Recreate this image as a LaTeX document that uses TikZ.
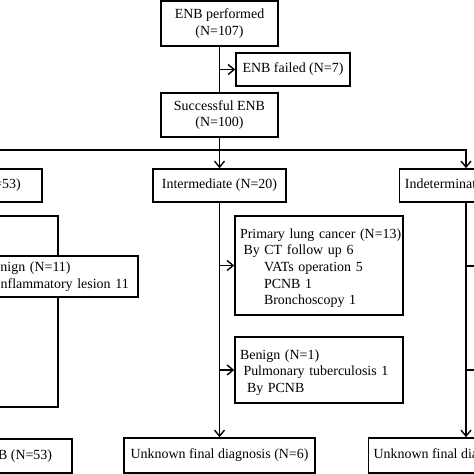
\documentclass[tikz,border=0pt]{standalone}
\usepackage{fontspec}
\setmainfont{Liberation Serif}
\usetikzlibrary{arrows.meta}
\tikzset{
	box/.style={draw, line width=1.6bp, fill=white, inner xsep=5bp, inner ysep=0pt, minimum height=33bp, font=\fontsize{14}{16.7}\selectfont},
	arr/.style={line width=1.6bp, -{Straight Barb[length=6bp,width=10bp,line width=1.4bp]}},
	conn/.style={line width=1.6bp}
}

\begin{document}
\begin{tikzpicture}[x=1bp,y=-1bp]
				%%%%% START %%%%%
				\def\colL{-24.5}
				\def\colM{219.5}
				\def\colR{466}
				\def\fork{150}
				\def\ind{\hspace*{3.5bp}}
				\def\topstrut{\rule{0pt}{15bp}}

				\useasboundingbox (0,0) rectangle (474,474);
				\clip (0,0) rectangle (474,474);

				\node[box, minimum width=117bp, minimum height=45bp, align=center] (perf) at (\colM,23.5) {ENB performed\\(N=107)};
				\node[box, minimum width=114bp] (failed) at (293,69.5) {ENB failed (N=7)};
				\node[box, minimum width=117bp, minimum height=44bp, align=center] (succ) at (\colM,115) {Successful ENB\\(N=100)};

				\node[box, minimum width=133bp] (definite) at (\colL,185.5) {Definite (N=53)};
				\node[box, minimum width=133bp] (inter) at (\colM,185.5) {Intermediate (N=20)};
				\node[box, minimum width=133bp] (indet) at (\colR,185.5) {Indeterminate (N=27)};

				\node[box, minimum width=168bp, minimum height=191bp] (malig) at (-26,311.5) {};
				\node[box, text width=148bp, minimum height=41bp, align=left] (benignL) at (59,276.5) {Benign (N=11)\\\hspace*{11bp}Inflammatory lesion 11};

				\node[box, text width=158bp, minimum height=99bp, align=left] (lung) at (319,265.5) {\topstrut\mbox{Primary lung cancer (N=13)}\\\ind By CT follow up 6\\\hspace*{24bp}VATs operation 5\\\hspace*{24bp}PCNB 1\\\hspace*{24bp}Bronchoscopy 1};
				\node[box, text width=158bp, minimum height=66bp, align=left] (benignM) at (319,370) {\topstrut Benign (N=1)\\\ind Pulmonary tuberculosis 1\\\ind\ind By PCNB};

				\node[box, minimum width=193bp, minimum height=34bp] (diag) at (\colL,456) {Diagnosed by ENB (N=53)};
				\node[box, minimum width=191bp, minimum height=35bp] (unkM) at (\colM,455.5) {Unknown final diagnosis (N=6)};
				\node[box, minimum width=191bp, minimum height=35bp] (unkR) at (\colR,455.5) {Unknown final diagnosis (N=14)};

				\coordinate (fk) at (\colM,\fork);
				\coordinate (r1) at (484,266);
				\coordinate (r2) at (484,370);

				\draw[conn] (perf) -- (succ);
				\draw[arr] (perf.south |- failed.west) -- (failed.west);
				\draw[conn] (succ) -- (fk);
				\draw[arr] (fk) -| (definite);
				\draw[arr] (fk) -- (inter);
				\draw[arr] (fk) -| (indet);

				\draw[arr] (inter) -- (unkM);
				\draw[arr] (inter.south |- lung.west) -- (lung.west);
				\draw[arr] (inter.south |- benignM.west) -- (benignM.west);

				\draw[arr] (indet) -- (unkR);
				\draw[arr] (indet.south |- r1) -- (r1);
				\draw[arr] (indet.south |- r2) -- (r2);
				%%%%% START %%%%%
\end{tikzpicture}
\end{document}
